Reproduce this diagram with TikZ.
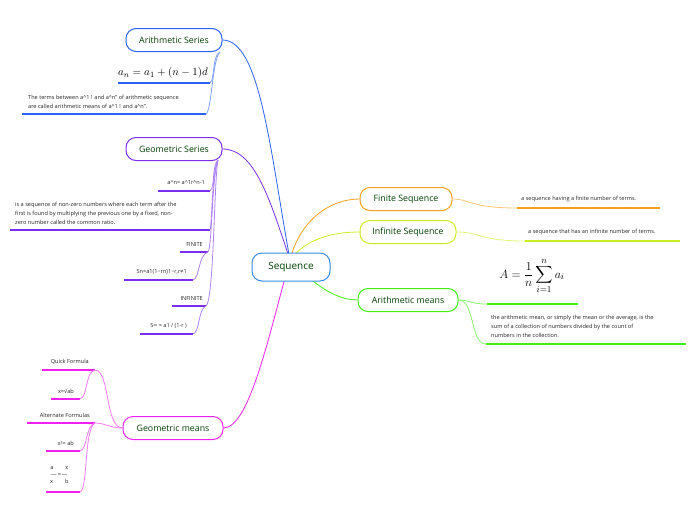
\documentclass[tikz,border=0pt]{standalone}
\usepackage{fontspec}
\setmainfont{Open Sans}
\usepackage{amsmath}
\pgfdeclarelayer{bg}
\pgfsetlayers{bg,main}
\begin{document}
\begin{tikzpicture}[x=1pt,y=-1pt,
  topic/.style={draw=#1,line width=1pt,rounded corners=10pt,fill=white,text=green!25!black,font=\fontsize{8.8}{10}\selectfont,minimum height=23pt,inner xsep=8pt},
  small/.style={font=\fontsize{5.6}{9}\selectfont,text=black!85,align=left,inner sep=0pt},
  ul/.style={draw=#1,line width=1.2pt},
  con/.style={draw=#1,line width=0.8pt}]
\useasboundingbox (0,0) rectangle (696,520);
\definecolor{cblue}{HTML}{2A62F5}
\definecolor{cpurp}{HTML}{7A2EF0}
\definecolor{cmag}{HTML}{F020F0}
\definecolor{corg}{HTML}{F5A020}
\definecolor{cyel}{HTML}{C8EE20}
\definecolor{cgrn}{HTML}{40EE10}
\definecolor{cseq}{HTML}{3A8AE0}
% main nodes
\node[topic=cseq,minimum width=78pt,minimum height=28pt,font=\fontsize{10}{11}\selectfont] (seq) at (291,267) {Sequence};
\node[topic=cblue,minimum width=96pt] (as) at (174,40) {Arithmetic Series};
\node[topic=cpurp,minimum width=96pt] (gs) at (174,149) {Geometric Series};
\node[topic=cmag,minimum width=100pt] (gm) at (173,428) {Geometric means};
\node[topic=corg,minimum width=92pt] (fs) at (406,199) {Finite Sequence};
\node[topic=cyel,minimum width=96pt] (is) at (408,232) {Infinite Sequence};
\node[topic=cgrn,minimum width=100pt] (am) at (408,300) {Arithmetic means};
% main connectors
\coordinate (o) at (290,260);
\begin{pgfonlayer}{bg}
\draw[con=cblue] (o) .. controls (270,150) and (260,40) .. (as.east);
\draw[con=cpurp] (o) .. controls (270,200) and (255,149) .. (gs.east);
\draw[con=cmag] (o) .. controls (270,330) and (250,428) .. (gm.east);
\draw[con=corg] (o) .. controls (300,220) and (330,199) .. (fs.west);
\draw[con=cyel] (o) .. controls (305,240) and (330,232) .. (is.west);
\draw[con=cgrn] (o) .. controls (305,275) and (330,300) .. (am.west);
\end{pgfonlayer}
% Arithmetic Series children
\node[inner sep=0pt,font=\fontsize{11}{12}\selectfont] (f1) at (163,73) {$a_n=a_1+(n-1)d$};
\coordinate (u1a) at (118,83); \coordinate (u1b) at (210,83);
\draw[ul=cblue] (u1a) -- (u1b);
\node[small,anchor=west] (t1) at (28,102) {The terms between a\textasciicircum1 ! and a\textasciicircum n" of arithmetic sequence\\are called arithmetic means of a\textasciicircum1 ! and a\textasciicircum n".};
\coordinate (u2a) at (22,114); \coordinate (u2b) at (206,114);
\draw[ul=cblue] (u2a) -- (u2b);
\coordinate (ab) at (220,52);
\draw[con=cblue!60] (ab) .. controls (212,55) and (215,80) .. (u1b);
\draw[con=cblue!60] (ab) .. controls (212,60) and (212,110) .. (u2b);
% Geometric Series children
\coordinate (gb) at (218,160);
\node[small,anchor=east] (g1) at (205,183) {a\textasciicircum n= a\textasciicircum 1r\textasciicircum n-1};
\draw[ul=cpurp] (158,191) coordinate (g1a) -- (210,191) coordinate (g1b);
\node[small,anchor=west] (g2) at (15,213) {is a sequence of non-zero numbers where each term after the\\first is found by multiplying the previous one by a fixed, non-\\zero number called the common ratio.};
\draw[ul=cpurp] (10,230) coordinate (g2a) -- (210,230) coordinate (g2b);
\node[small,anchor=east] (g3) at (203,244) {FINITE};
\draw[ul=cpurp] (180,252) coordinate (g3a) -- (208,252) coordinate (g3b);
\node[small,anchor=east] (g4) at (187,272) {Sn=a1(1−rn)1−r,r≠1};
\draw[ul=cpurp] (124,280) coordinate (g4a) -- (193,280) coordinate (g4b);
\node[small,anchor=east] (g5) at (203,298) {INFINITE};
\draw[ul=cpurp] (172,306) coordinate (g5a) -- (206,306) coordinate (g5b);
\node[small,anchor=east] (g6) at (187,326) {S∞ = a1 / (1-r )};
\draw[ul=cpurp] (140,334) coordinate (g6a) -- (193,334) coordinate (g6b);
\draw[con=cpurp!60] (gb) .. controls (212,165) and (215,188) .. (g1b);
\draw[con=cpurp!60] (gb) .. controls (212,170) and (212,225) .. (g2b);
\draw[con=cpurp!60] (gb) .. controls (212,175) and (212,248) .. (g3b);
\draw[con=cpurp!60] (gb) .. controls (214,180) and (214,300) .. (g5b);
\draw[con=cpurp!60] (g3b) .. controls (198,255) and (200,278) .. (g4b);
\draw[con=cpurp!60] (g5b) .. controls (198,309) and (200,332) .. (g6b);
% Geometric means children
\node[small,anchor=east] (m1) at (89,362) {Quick Formula};
\draw[ul=cmag] (42,370) coordinate (m1a) -- (95,370) coordinate (m1b);
\node[small,anchor=east] (m2) at (74,391) {x=√ab};
\draw[ul=cmag] (51,399) coordinate (m2a) -- (80,399) coordinate (m2b);
\node[small,anchor=east] (m3) at (90,415) {Alternate Formulas};
\draw[ul=cmag] (27,423) coordinate (m3a) -- (95,423) coordinate (m3b);
\node[small,anchor=east] (m4) at (74,443) {x²= ab};
\draw[ul=cmag] (46,451) coordinate (m4a) -- (80,451) coordinate (m4b);
\node[small,anchor=west,align=center] (m5) at (50,475) {a\hspace{12pt}x\\[-2pt]—\,=\,—\\[-2pt]x\hspace{12pt}b};
\draw[ul=cmag] (46,492) coordinate (m5a) -- (80,492) coordinate (m5b);
\draw[con=cmag!60] (gm.west) .. controls (105,428) and (110,370) .. (m1b);
\draw[con=cmag!60] (gm.west) .. controls (110,428) and (105,423) .. (m3b);
\draw[con=cmag!60] (m1b) .. controls (85,372) and (88,397) .. (m2b);
\draw[con=cmag!60] (m3b) .. controls (85,426) and (88,449) .. (m4b);
\draw[con=cmag!60] (m3b) .. controls (84,428) and (88,490) .. (m5b);
% right children
\node[small,anchor=west] (r1) at (521,199) {a sequence having a finite number of terms.};
\draw[ul=corg] (517,208) coordinate (r1a) -- (660,208) coordinate (r1b);
\draw[con=corg!60] (fs.east) .. controls (470,199) and (470,208) .. (r1a);
\node[small,anchor=west] (r2) at (528,232) {a sequence that has an infinite number of terms.};
\draw[ul=cyel] (525,241) coordinate (r2a) -- (680,241) coordinate (r2b);
\draw[con=cyel!60] (is.east) .. controls (480,232) and (480,241) .. (r2a);
\node[inner sep=0pt,font=\fontsize{13}{14}\selectfont] (r3) at (532,276) {$A=\dfrac{1}{n}\displaystyle\sum_{i=1}^{n}a_i$};
\draw[ul=cgrn] (487,304) coordinate (r3a) -- (578,304) coordinate (r3b);
\draw[con=cgrn!60] (am.east) .. controls (470,300) and (470,304) .. (r3a);
\node[small,anchor=west] (r4) at (491,326) {the arithmetic mean, or simply the mean or the average, is the\\sum of a collection of numbers divided by the count of\\numbers in the collection.};
\draw[ul=cgrn] (486,344) coordinate (r4a) -- (686,344) coordinate (r4b);
\draw[con=cgrn!60] (am.east) .. controls (475,300) and (470,344) .. (r4a);
\end{tikzpicture}
\end{document}
